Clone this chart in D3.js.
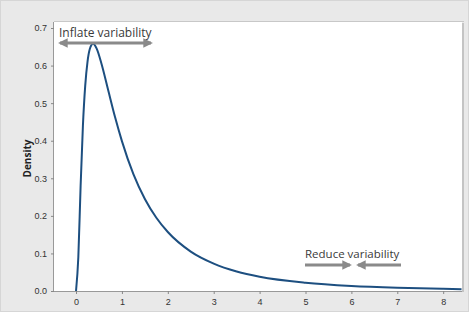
<!DOCTYPE html>
<html lang="en">
<head>
  <meta charset="UTF-8">
  <title>Density</title>
  <script src="https://d3js.org/d3.v7.min.js"></script>
  <style>
    body { margin: 0; background: #e9e9e9; }
    svg { display: block; font-family: "Open Sans", "DejaVu Sans", sans-serif; }
    .tick text { font-size: 9px; fill: #333; }
    .tick line { stroke: #888; }
    .domain { stroke: #999; }
    .note { font-size: 11.5px; fill: #3a3a3a; }
  </style>
</head>
<body>
<div id="chart"></div>
<script>
// density curve
const xs = [0, 0.05, 0.1, 0.15, 0.2, 0.25, 0.3, 0.37, 0.45, 0.55, 0.7, 0.85, 1,
            1.25, 1.5, 1.75, 2, 2.5, 3, 3.5, 4, 5, 6, 7, 8, 8.4];
const ys = [0, 0.09, 0.28, 0.44, 0.546, 0.61, 0.644, 0.658, 0.645, 0.607, 0.535, 0.463, 0.399,
            0.311, 0.245, 0.195, 0.157, 0.105, 0.073, 0.052, 0.038, 0.022, 0.0134, 0.0086, 0.0057, 0.0048];
const xTicks = [0, 1, 2, 3, 4, 5, 6, 7, 8];
const yTicks = [0, 0.1, 0.2, 0.3, 0.4, 0.5, 0.6, 0.7];

const W = 469, H = 312;
const plot = { left: 54, top: 22, right: 462, bottom: 291 };

const svg = d3.select("#chart").append("svg")
  .attr("width", W).attr("height", H);

// outer frame
svg.append("rect")
  .attr("x", 0.5).attr("y", 0.5).attr("width", W - 1).attr("height", H - 1)
  .attr("fill", "#e9e9e9").attr("stroke", "#d6d6d6");

const x = d3.scaleLinear().domain([-0.48, 8.41]).range([plot.left, plot.right]);
const y = d3.scaleLinear().domain([0, 0.716]).range([plot.bottom, plot.top]);

// plot area
svg.append("rect")
  .attr("x", plot.right).attr("y", plot.top + 1)
  .attr("width", 2).attr("height", plot.bottom - plot.top)
  .attr("fill", "#c4c4c4");
svg.append("rect")
  .attr("x", plot.left).attr("y", plot.top)
  .attr("width", plot.right - plot.left).attr("height", plot.bottom - plot.top)
  .attr("fill", "#fff");
svg.append("line")
  .attr("x1", plot.left).attr("x2", plot.right + 2)
  .attr("y1", plot.top - 0.5).attr("y2", plot.top - 0.5)
  .attr("stroke", "#c8c8c8");

// axes
svg.append("g")
  .attr("transform", `translate(0,${plot.bottom})`)
  .call(d3.axisBottom(x).tickValues(xTicks).tickSize(3).tickPadding(5).tickFormat(d3.format("d")))
  .call(g => g.select(".domain").attr("d", `M${plot.left},0.5H${plot.right}`));

svg.append("g")
  .attr("transform", `translate(${plot.left},0)`)
  .call(d3.axisLeft(y).tickValues(yTicks).tickSize(3).tickPadding(4).tickFormat(d3.format(".1f")))
  .call(g => g.select(".domain").attr("d", `M-0.5,${plot.top}V${plot.bottom}`));

// y label
svg.append("text")
  .attr("transform", `translate(31,${(plot.top + plot.bottom) / 2 + 2}) rotate(-90)`)
  .attr("text-anchor", "middle")
  .style("font-size", "10px").style("font-weight", "bold").style("fill", "#222")
  .text("Density");

// curve
const pts = xs.map((v, i) => [v, ys[i]]);
svg.append("path")
  .datum(pts)
  .attr("fill", "none")
  .attr("stroke", "#1d4f80")
  .attr("stroke-width", 2)
  .attr("d", d3.line().x(d => x(d[0])).y(d => y(d[1])).curve(d3.curveMonotoneX));

// arrow heads
const defs = svg.append("defs");
defs.append("marker")
  .attr("id", "head").attr("viewBox", "0 0 10 10")
  .attr("refX", 8).attr("refY", 5)
  .attr("markerWidth", 3.2).attr("markerHeight", 3.2)
  .attr("markerUnits", "strokeWidth")
  .attr("orient", "auto-start-reverse")
  .append("path").attr("d", "M0,0L10,5L0,10Z").attr("fill", "#8a8a8a");

const arrow = (x1, x2, yy, start, end) => {
  const l = svg.append("line")
    .attr("x1", x1).attr("x2", x2).attr("y1", yy).attr("y2", yy)
    .attr("stroke", "#8a8a8a").attr("stroke-width", 3);
  if (start) l.attr("marker-start", "url(#head)");
  if (end) l.attr("marker-end", "url(#head)");
};

// annotations
svg.append("text").attr("class", "note")
  .attr("x", 59).attr("y", 37)
  .style("font-size", "12px")
  .text("Inflate variability");
arrow(60, 151, 43, true, true);

svg.append("text").attr("class", "note")
  .attr("x", 305).attr("y", 258)
  .text("Reduce variability");
arrow(305, 350, 265, false, true);
arrow(401, 358, 265, false, true);
</script>
</body>
</html>
